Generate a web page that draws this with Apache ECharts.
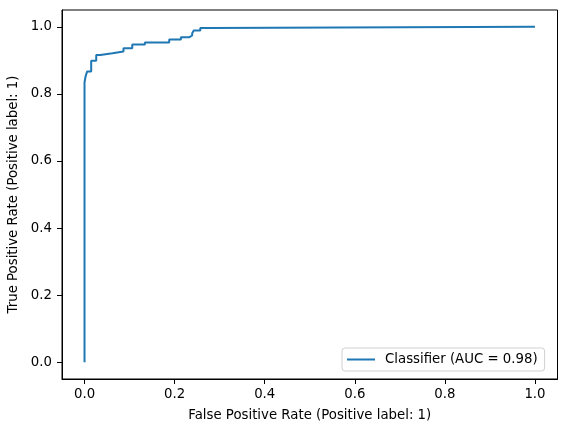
<!DOCTYPE html>
<html>
<head>
<meta charset="utf-8">
<script src="https://cdn.jsdelivr.net/npm/echarts@6/dist/echarts.min.js"></script>
<style>html,body{margin:0;padding:0;background:#fff}#c{width:567px;height:432px}</style>
</head>
<body>
<div id="c"></div>
<script>
const fpr = [0, 0, 0.0022, 0.0044, 0.006, 0.0148, 0.026, 0.035, 0.062, 0.0865, 0.106, 0.134, 0.188, 0.214, 0.233, 0.239, 0.2425, 0.257, 0.276, 1.0];
const tpr = [0, 0.834, 0.851, 0.861, 0.867, 0.899, 0.916, 0.921, 0.926, 0.936, 0.947, 0.953, 0.962, 0.969, 0.974, 0.981, 0.989, 0.996, 1.0, 1.0];
const tickValues = [0, 0.2, 0.4, 0.6, 0.8, 1.0];
const seriesName = 'Classifier (AUC = 0.98)';
const xTitle = 'False Positive Rate (Positive label: 1)';
const yTitle = 'True Positive Rate (Positive label: 1)';

const font = 'DejaVu Sans';
// ROC step curve: horizontal move to next fpr, then vertical rise to next tpr
const pts = [[fpr[0], tpr[0]]];
for (let i = 1; i < fpr.length; i++) {
  pts.push([fpr[i], tpr[i - 1]]);
  pts.push([fpr[i], tpr[i]]);
}
const chart = echarts.init(document.getElementById('c'), null, {renderer: 'canvas'});
const axisCommon = {
  type: 'value', min: -0.05, max: 1.05,
  axisLine: {show: true, onZero: false, lineStyle: {color: '#000', width: 1}},
  axisTick: {show: true, inside: false, length: 5, customValues: tickValues, lineStyle: {color: '#000', width: 1}},
  axisLabel: {show: true, customValues: tickValues, formatter: v => v.toFixed(1), color: '#000', fontFamily: font, fontSize: 13.3},
  splitLine: {show: false},
  nameLocation: 'middle',
  nameTextStyle: {color: '#000', fontFamily: font, fontSize: 13.3}
};
chart.setOption({
  animation: false,
  backgroundColor: '#fff',
  grid: {left: 62, right: 9.5, top: 10, bottom: 53, show: true, borderColor: '#000', borderWidth: 1, containLabel: false, outerBoundsMode: 'none'},
  xAxis: Object.assign({}, axisCommon, {name: xTitle, nameGap: 30,
    axisLabel: Object.assign({}, axisCommon.axisLabel, {margin: 9})}),
  yAxis: Object.assign({}, axisCommon, {name: yTitle, nameGap: 38,
    axisLabel: Object.assign({}, axisCommon.axisLabel, {margin: 10})}),
  legend: {
    show: true, left: 342, top: 348, orient: 'horizontal',
    icon: 'rect', itemWidth: 28, itemHeight: 2, itemGap: 10,
    padding: [5, 7, 5, 5],
    borderColor: '#d0d0d0', borderWidth: 1, borderRadius: 3,
    backgroundColor: 'rgba(255,255,255,0.8)',
    textStyle: {color: '#000', fontFamily: font, fontSize: 13.3, padding: [0, 0, 0, 5]},
    data: [{name: seriesName, itemStyle: {color: '#1f77b4'}}]
  },
  series: [{
    name: seriesName, type: 'line', data: pts,
    showSymbol: false, symbol: 'none',
    lineStyle: {color: '#1f77b4', width: 2},
    itemStyle: {color: '#1f77b4'}
  }]
});
</script>
</body>
</html>
